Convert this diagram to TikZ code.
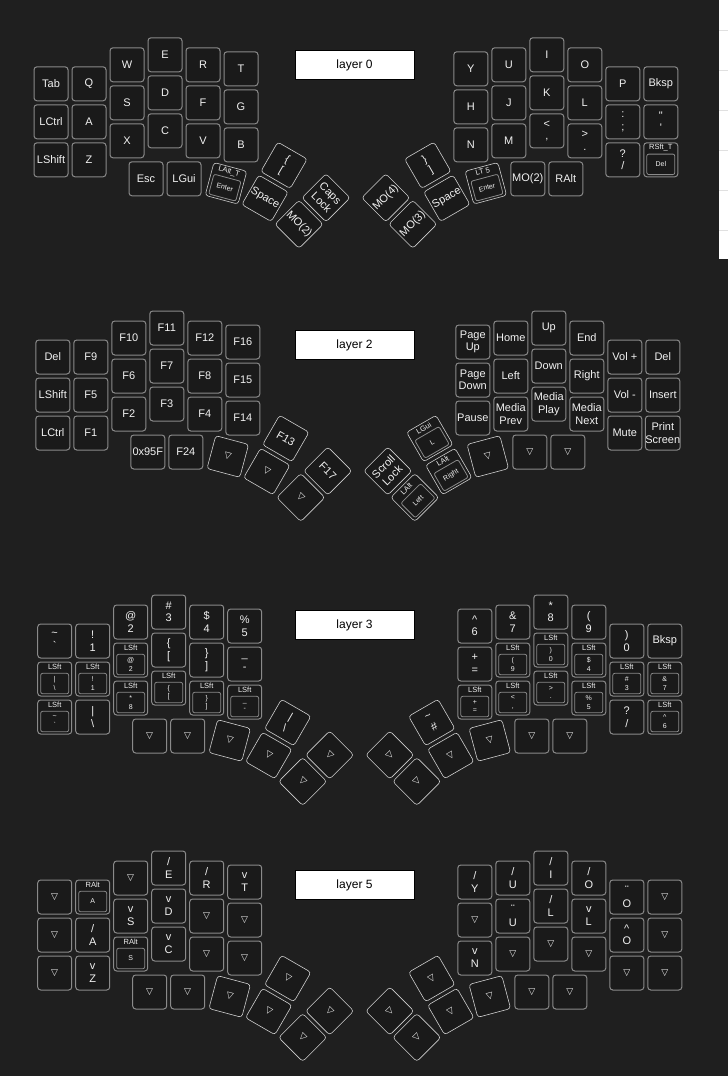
\documentclass[tikz,border=0pt]{standalone}
\usepackage{fontspec}
\setmainfont{Liberation Sans}
\newfontfamily\glyphfont{DejaVu Sans}
\usetikzlibrary{calc}

\definecolor{board}{HTML}{1F1F1F}
\definecolor{capfill}{HTML}{1A1A1A}
\definecolor{capedge}{HTML}{8A8A8A}
\definecolor{tiltedge}{HTML}{CFCFCF}
\definecolor{captext}{HTML}{F2F2F2}

\newcommand\downtri{{\glyphfont\fontsize{9}{9}\selectfont ▽}}
\newcommand\umldots{{\glyphfont ¨}}

% key slots of one half, px from the outer top key
\newcommand\keyslots[1]{%
  \foreach \kc/\dy in {0/0,1/0,2/-19,3/-29,4/-19,5/-15}
    \foreach \kr in {0,1,2}
      \coordinate (#1\kc\kr) at (38*\kc,\dy+38*\kr);
  \coordinate (#1t0) at (95,95);
  \coordinate (#1t1) at (133,95);
  \coordinate (#1r1) at (175,99.5);
  \coordinate (#1r2) at (214,114.5);
  \coordinate (#1r3) at (233,81.5);
  \coordinate (#1r4) at (248,140.5);
  \coordinate (#1r5) at (275,114);}

% hold-tap key: style, name, slot, angle, hold, tap
\newcommand\holdtap[6]{%
  \node[#1, rotate=#4] (#2) at (#3) {};
  \node[holdlbl, rotate=#4] (#2-h) at ($(#2.center)!0.7!(#2.north)$) {#5};
  \node[holdbox, rotate=#4] (#2-t) at ($(#2.center)!0.26!(#2.south)$) {#6};}

\tikzset{
  keycap/.style={draw=capedge, fill=capfill, line width=1pt, rounded corners=3pt,
    minimum size=34pt, inner sep=0pt, align=center, text=captext,
    font=\fontsize{11}{12.5}\selectfont},
  tiltcap/.style={keycap, draw=tiltedge, line width=0.6pt},
  holdlbl/.style={inner sep=0pt, text=captext, font=\fontsize{7.5}{7.5}\selectfont},
  holdbox/.style={draw=capedge, line width=0.8pt, rounded corners=2pt,
    minimum width=28pt, minimum height=20.5pt, inner sep=0pt, align=center,
    text=captext, font=\fontsize{7}{8.5}\selectfont},
  title/.style={draw=black, fill=white, line width=1pt, minimum width=119pt,
    minimum height=29pt, text=black, font=\fontsize{12}{12}\selectfont},
}

\begin{document}
\begin{tikzpicture}[x=1pt, y=-1pt]
  \fill[board] (0,0) rectangle (728,1076);
  \useasboundingbox (0,0) rectangle (728,1076);
  \fill[white] (719,0) rectangle (728,258.7);
  \foreach \y in {30,70,...,230}
    \draw[black!12] (719,\y) -- (728,\y);

  % layer 0
  \node[title] (title0) at (354.5,65.3) {layer 0};
  \begin{scope}[shift={(51,83.8)}] \keyslots{p0l} \end{scope}
  \begin{scope}[shift={(660.8,83.8)}, xscale=-1] \keyslots{p0r} \end{scope}
  \foreach \slot/\lbl in {00/Tab,01/LCtrl,02/LShift,10/Q,11/A,12/Z,20/W,21/S,22/X,
      30/E,31/D,32/C,40/R,41/F,42/V,50/T,51/G,52/B,t0/Esc,t1/LGui}
    \node[keycap] (k0l\slot) at (p0l\slot) {\lbl};
  \holdtap{tiltcap}{k0lr1}{p0lr1}{-15}{LAlt\_T}{Enter}
  \node[tiltcap, rotate=-30] (k0lr2) at (p0lr2) {Space};
  \node[tiltcap, rotate=-30] (k0lr3) at (p0lr3) {\{\\{}[};
  \node[tiltcap, rotate=-45] (k0lr4) at (p0lr4) {MO(2)};
  \node[tiltcap, rotate=-45] (k0lr5) at (p0lr5) {Caps\\Lock};
  \foreach \slot/\lbl in {00/Bksp,01/{\textquotedbl\\\textquotesingle},10/P,11/{:\\;},
      12/{?\\/},20/O,21/L,22/{>\\.},30/I,31/K,32/{<\\,},40/U,41/J,42/M,
      50/Y,51/H,52/N,t0/RAlt,t1/{MO(2)}}
    \node[keycap] (k0r\slot) at (p0r\slot) {\lbl};
  \holdtap{keycap}{k0r02}{p0r02}{0}{RSft\_T}{Del}
  \holdtap{tiltcap}{k0rr1}{p0rr1}{15}{LT 5}{Enter}
  \node[tiltcap, rotate=30] (k0rr2) at (p0rr2) {Space};
  \node[tiltcap, rotate=30] (k0rr3) at (p0rr3) {\}\\]};
  \node[tiltcap, rotate=45] (k0rr4) at (p0rr4) {MO(3)};
  \node[tiltcap, rotate=45] (k0rr5) at (p0rr5) {MO(4)};

  % layer 2
  \node[title] (title2) at (354.5,345.3) {layer 2};
  \begin{scope}[shift={(52.8,357)}] \keyslots{p2l} \end{scope}
  \begin{scope}[shift={(662.8,357)}, xscale=-1] \keyslots{p2r} \end{scope}
  \foreach \slot/\lbl in {00/Del,01/LShift,02/LCtrl,10/F9,11/F5,12/F1,20/F10,21/F6,22/F2,
      30/F11,31/F7,32/F3,40/F12,41/F8,42/F4,50/F16,51/F15,52/F14,t0/0x95F,t1/F24}
    \node[keycap] (k2l\slot) at (p2l\slot) {\lbl};
  \node[tiltcap, rotate=-15] (k2lr1) at (p2lr1) {\downtri};
  \node[tiltcap, rotate=-30] (k2lr2) at (p2lr2) {\downtri};
  \node[tiltcap, rotate=-30] (k2lr3) at (p2lr3) {F13};
  \node[tiltcap, rotate=-45] (k2lr4) at (p2lr4) {\downtri};
  \node[tiltcap, rotate=-45] (k2lr5) at (p2lr5) {F17};
  \foreach \slot/\lbl in {00/Del,01/Insert,02/{Print\\Screen},10/{Vol +},11/{Vol -},
      12/Mute,20/End,21/Right,22/{Media\\Next},30/Up,31/Down,32/{Media\\Play},
      40/Home,41/Left,42/{Media\\Prev},50/{Page\\Up},51/{Page\\Down},52/Pause,
      t0/\downtri,t1/\downtri}
    \node[keycap] (k2r\slot) at (p2r\slot) {\lbl};
  \node[tiltcap, rotate=15] (k2rr1) at (p2rr1) {\downtri};
  \holdtap{tiltcap}{k2rr2}{p2rr2}{30}{LAlt}{Right}
  \holdtap{tiltcap}{k2rr3}{p2rr3}{30}{LGui}{L}
  \holdtap{tiltcap}{k2rr4}{p2rr4}{45}{LAlt}{Left}
  \node[tiltcap, rotate=45] (k2rr5) at (p2rr5) {Scroll\\Lock};

  % layer 3
  \node[title] (title3) at (354.5,625.3) {layer 3};
  \begin{scope}[shift={(54.7,641)}] \keyslots{p3l} \end{scope}
  \begin{scope}[shift={(664.8,641)}, xscale=-1] \keyslots{p3r} \end{scope}
  \foreach \slot/\lbl in {00/{\textasciitilde\\\textasciigrave},10/{!\\1},
      12/{|\\\textbackslash},20/{@\\2},30/{\#\\3},31/{\{\\{}[},40/{\$\\4},
      41/{\}\\]},50/{\%\\5},51/{\_\\-},t0/\downtri,t1/\downtri}
    \node[keycap] (k3l\slot) at (p3l\slot) {\lbl};
  \foreach \slot/\lbl in {01/{|\\\textbackslash},02/{\textasciitilde\\\textasciigrave},
      11/{!\\1},21/{@\\2},22/{*\\8},32/{\{\\{}[},42/{\}\\]},52/{\_\\-}}
    {\holdtap{keycap}{k3l\slot}{p3l\slot}{0}{LSft}{\lbl}}
  \foreach \slot/\ang in {r1/-15,r2/-30,r4/-45,r5/-45}
    \node[tiltcap, rotate=\ang] (k3l\slot) at (p3l\slot) {\downtri};
  \node[tiltcap, rotate=-30] (k3lr3) at (p3lr3) {|\\\textbackslash};
  \foreach \slot/\lbl in {00/Bksp,10/{)\\0},12/{?\\/},20/{(\\9},30/{*\\8},40/{\&\\7},
      50/{\textasciicircum\\6},51/{+\\=},t0/\downtri,t1/\downtri}
    \node[keycap] (k3r\slot) at (p3r\slot) {\lbl};
  \foreach \slot/\lbl in {01/{\&\\7},02/{\textasciicircum\\6},11/{\#\\3},21/{\$\\4},
      22/{\%\\5},31/{)\\0},32/{>\\.},41/{(\\9},42/{<\\,},52/{+\\=}}
    {\holdtap{keycap}{k3r\slot}{p3r\slot}{0}{LSft}{\lbl}}
  \foreach \slot/\ang in {r1/15,r2/30,r4/45,r5/45}
    \node[tiltcap, rotate=\ang] (k3r\slot) at (p3r\slot) {\downtri};
  \node[tiltcap, rotate=30] (k3rr3) at (p3rr3) {\textasciitilde\\\#};

  % layer 5
  \node[title] (title5) at (354.5,885.3) {layer 5};
  \begin{scope}[shift={(54.7,897)}] \keyslots{p5l} \end{scope}
  \begin{scope}[shift={(664.8,897)}, xscale=-1] \keyslots{p5r} \end{scope}
  \foreach \slot/\lbl in {00/\downtri,01/\downtri,02/\downtri,11/{/\\A},12/{v\\Z},
      20/\downtri,21/{v\\S},30/{/\\E},31/{v\\D},32/{v\\C},40/{/\\R},41/\downtri,
      42/\downtri,50/{v\\T},51/\downtri,52/\downtri,t0/\downtri,t1/\downtri}
    \node[keycap] (k5l\slot) at (p5l\slot) {\lbl};
  \holdtap{keycap}{k5l10}{p5l10}{0}{RAlt}{A}
  \holdtap{keycap}{k5l22}{p5l22}{0}{RAlt}{S}
  \foreach \slot/\ang in {r1/-15,r2/-30,r3/-30,r4/-45,r5/-45}
    \node[tiltcap, rotate=\ang] (k5l\slot) at (p5l\slot) {\downtri};
  \foreach \slot/\lbl in {00/\downtri,01/\downtri,02/\downtri,10/{\umldots\\O},
      11/{\textasciicircum\\O},12/\downtri,20/{/\\O},21/{v\\L},22/\downtri,
      30/{/\\I},31/{/\\L},32/\downtri,40/{/\\U},41/{\umldots\\U},42/\downtri,
      50/{/\\Y},51/\downtri,52/{v\\N},t0/\downtri,t1/\downtri}
    \node[keycap] (k5r\slot) at (p5r\slot) {\lbl};
  \foreach \slot/\ang in {r1/15,r2/30,r3/30,r4/45,r5/45}
    \node[tiltcap, rotate=\ang] (k5r\slot) at (p5r\slot) {\downtri};
\end{tikzpicture}
\end{document}
